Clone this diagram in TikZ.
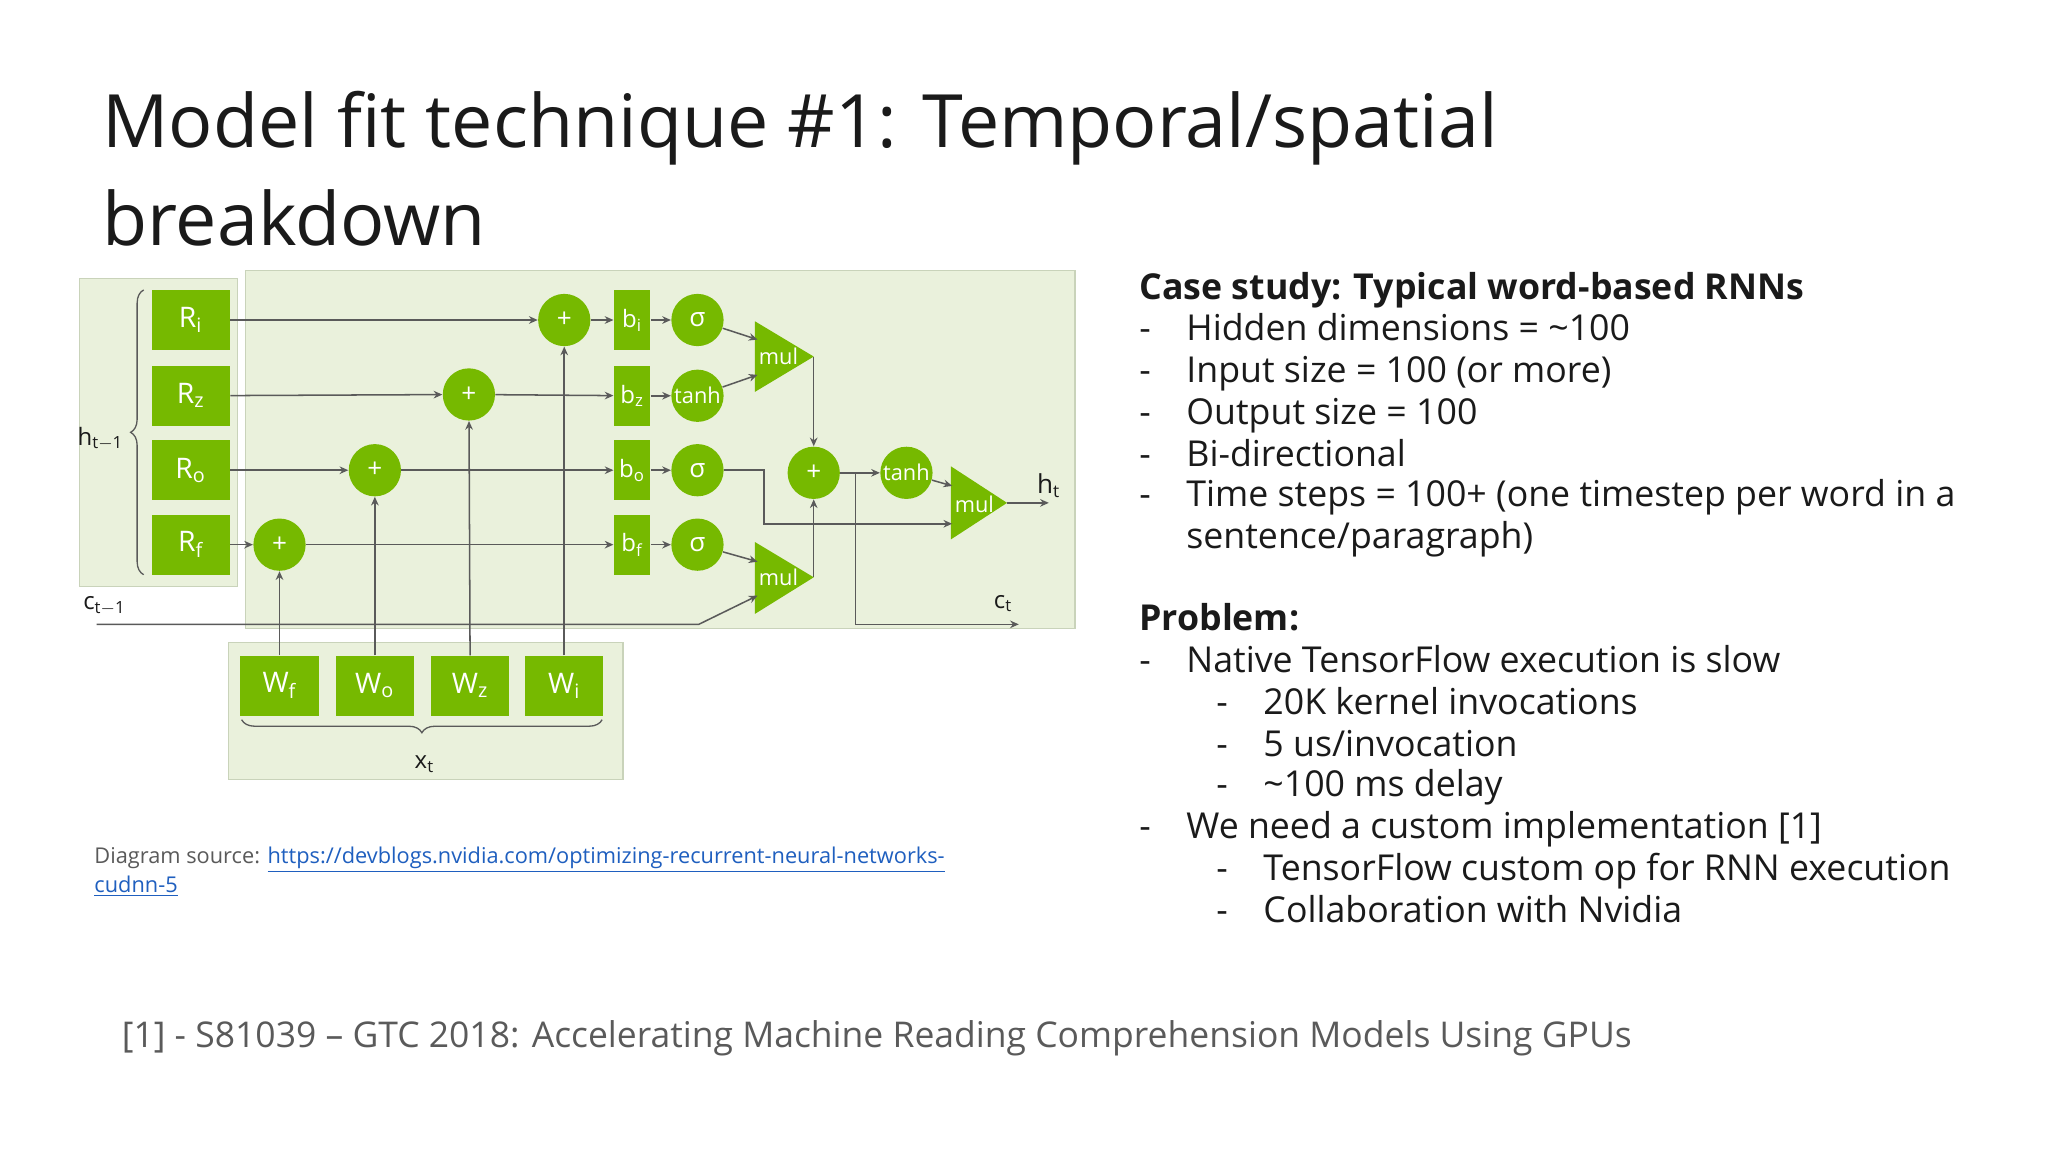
\documentclass[tikz,border=0pt]{standalone}
\usepackage{fontspec}
\setmainfont{Open Sans}
\usetikzlibrary{arrows.meta,decorations.pathreplacing}
\definecolor{nv}{HTML}{76B900}
\definecolor{pan}{HTML}{EAF1DC}
\definecolor{panb}{HTML}{C9D3BA}
\definecolor{ln}{HTML}{5A5A5A}
\definecolor{txt}{HTML}{1A1A1A}
\definecolor{lnk}{HTML}{1F5FBF}
\begin{document}
\begin{tikzpicture}[x=0.6pt,y=-0.6pt,
  panel/.style={fill=pan,draw=panb,line width=0.6pt},
  rbox/.style={fill=nv,minimum width=36pt,minimum height=27.6pt,inner sep=0,text=white,font=\fontsize{13}{13}\selectfont},
  bbox/.style={fill=nv,minimum width=16.8pt,minimum height=27.6pt,inner sep=0,text=white,font=\fontsize{11}{11}\selectfont},
  circ/.style={circle,fill=nv,minimum size=24pt,inner sep=0,text=white,font=\fontsize{10}{10}\selectfont},
  plus/.style={circ,font=\fontsize{12}{12}\selectfont},
  tri/.style={fill=nv},
  arr/.style={draw=ln,line width=0.7pt,-{Stealth[length=4pt,width=3.5pt]}},
  lbl/.style={text=txt,font=\fontsize{11}{11}\selectfont},
  body/.style={anchor=base west,text=txt,font=\fontsize{16.4}{19}\selectfont,inner sep=0}]
\useasboundingbox[fill=white] (0,0) rectangle (1568,882);
% title
\node[anchor=base west,inner sep=0,text=txt,font=\fontsize{33.8}{45}\selectfont] (t1) at (78,113) {Model fit technique \#1: Temporal/spatial};
\node[anchor=base west,inner sep=0,text=txt,font=\fontsize{33.8}{45}\selectfont] (t2) at (78,188) {breakdown};
% panels
\path[panel] (61,213) rectangle (182,449);
\path[panel] (188,207) rectangle (823,481);
\path[panel] (175,492) rectangle (477,597);
% R boxes
\node[rbox] (Ri) at (146,245) {R$_{\mathrm i}$};
\node[rbox] (Rz) at (146,303) {R$_{\mathrm z}$};
\node[rbox] (Ro) at (146,360) {R$_{\mathrm o}$};
\node[rbox] (Rf) at (146,417) {R$_{\mathrm f}$};
% W boxes
\node[rbox] (Wf) at (214,525) {W$_{\mathrm f}$};
\node[rbox] (Wo) at (287,525) {W$_{\mathrm o}$};
\node[rbox] (Wz) at (360,525) {W$_{\mathrm z}$};
\node[rbox] (Wi) at (432,525) {W$_{\mathrm i}$};
% plus
\node[plus] (pi) at (432,245) {+};
\node[plus] (pz) at (359,302) {+};
\node[plus] (po) at (287,360) {+};
\node[plus] (pf) at (214,417) {+};
% b boxes
\node[bbox] (bi) at (484,245) {b$_{\mathrm i}$};
\node[bbox] (bz) at (484,303) {b$_{\mathrm z}$};
\node[bbox] (bo) at (484,360) {b$_{\mathrm o}$};
\node[bbox] (bf) at (484,417) {b$_{\mathrm f}$};
% activations
\node[circ,font=\fontsize{12}{12}\selectfont] (si) at (534,245) {σ};
\node[circ] (tz) at (534,303) {tanh};
\node[circ,font=\fontsize{12}{12}\selectfont] (so) at (534,360) {σ};
\node[circ,font=\fontsize{12}{12}\selectfont] (sf) at (534,417) {σ};
% mul triangles
\path[tri] (578,246) -- (623,273) -- (578,300) -- cycle;
\node[inner sep=0,text=white,font=\fontsize{10}{10}\selectfont] (m1) at (596,273) {mul};
\coordinate (m1o) at (623,273);
\coordinate (m1a) at (580,260);
\coordinate (m1b) at (580,287);
\path[tri] (578,415) -- (623,442) -- (578,470) -- cycle;
\node[inner sep=0,text=white,font=\fontsize{10}{10}\selectfont] (m2) at (596,442) {mul};
\coordinate (m2o) at (623,442);
\coordinate (m2a) at (580,430);
\coordinate (m2b) at (580,456);
\path[tri] (728,357) -- (771,385) -- (728,413) -- cycle;
\node[inner sep=0,text=white,font=\fontsize{10}{10}\selectfont] (m3) at (746,386) {mul};
\coordinate (m3o) at (771,385);
\coordinate (m3a) at (729,372);
\coordinate (m3b) at (729,401);
% middle
\node[plus] (pc) at (623,362) {+};
\node[circ] (tc) at (694,362) {tanh};
% wires
\draw[arr] (Ri) -- (pi);
\draw[arr] (Rz) -- (pz);
\draw[arr] (Ro) -- (po);
\draw[arr] (Rf) -- (pf);
\draw[arr] (Wf) -- (pf);
\draw[arr] (Wo) -- (po);
\draw[arr] (Wz) -- (pz);
\draw[arr] (Wi) -- (pi);
\draw[arr] (pi) -- (bi);
\draw[arr] (pz) -- (bz);
\draw[arr] (po) -- (bo);
\draw[arr] (pf) -- (bf);
\draw[arr] (bi) -- (si);
\draw[arr] (bz) -- (tz);
\draw[arr] (bo) -- (so);
\draw[arr] (bf) -- (sf);
\draw[arr] (si) -- (m1a);
\draw[arr] (tz) -- (m1b);
\draw[arr] (sf) -- (m2a);
\draw[arr] (m1o) -- (pc);
\draw[arr] (m2o) -- (pc);
\draw[arr] (pc) -- (tc);
\draw[arr] (tc) -- (m3a);
\draw[arr] (so.east) -- (585,360) -- (585,401) -- (m3b);
\coordinate (ht) at (803,385);
\draw[arr] (m3o) -- (ht);
\node[lbl,font=\fontsize{12}{12}\selectfont] (htl) at (803,372) {h$_{\mathrm t}$};
\coordinate (cin) at (74,478);
\draw[arr] (cin) -- (535,478) -- (m2b);
\coordinate (cout) at (780,478);
\draw[arr] (pc.east) -- (655,362) -- (655,478) -- (cout);
\node[lbl] (ctl) at (768,462) {c$_{\mathrm t}$};
\node[lbl] (cil) at (80,464) {c$_{\mathrm{t-1}}$};
% braces
\draw[draw=ln,line width=0.6pt,decorate,decoration={brace,amplitude=6pt}] (110,440) -- (110,222);
\node[lbl] (hl) at (77,336) {h$_{\mathrm{t-1}}$};
\draw[draw=ln,line width=0.6pt,decorate,decoration={brace,amplitude=6pt}] (461,551) -- (185,551);
\node[lbl] (xl) at (325,585) {x$_{\mathrm t}$};
% caption
\node[anchor=base west,inner sep=0,text=ln,font=\fontsize{10}{13}\selectfont] (cap) at (72,661) {Diagram source: \textcolor{lnk}{\underline{https://devblogs.nvidia.com/optimizing-recurrent-neural-networks-}}};
\node[anchor=base west,inner sep=0,text=lnk,font=\fontsize{10}{13}\selectfont] (cap2) at (72,683) {\underline{cudnn-5}};
% right text
\node[body] (h1) at (872,229) {\textbf{Case study: Typical word-based RNNs}};
\foreach \y/\s [count=\i] in {261/{Hidden dimensions = \textasciitilde100},293/{Input size = 100 (or more)},325/{Output size = 100},357/{Bi-directional},388/{Time steps = 100+ (one timestep per word in a}}{
  \node[body] (d\i) at (872,\y) {-};
  \node[body] (l\i) at (908,\y) {\s};
}
\node[body] (l6) at (908,420) {sentence/paragraph)};
\node[body] (h2) at (872,483) {\textbf{Problem:}};
\node[body] (e1) at (872,515) {-};
\node[body] (f1) at (908,515) {Native TensorFlow execution is slow};
\foreach \y/\s [count=\i] in {547/{20K kernel invocations},579/{5 us/invocation},610/{\textasciitilde100 ms delay}}{
  \node[body] (sd\i) at (931,\y) {-};
  \node[body] (sl\i) at (967,\y) {\s};
}
\node[body] (e2) at (872,642) {-};
\node[body] (f2) at (908,642) {We need a custom implementation [1]};
\foreach \y/\s [count=\i] in {674/{TensorFlow custom op for RNN execution},706/{Collaboration with Nvidia}}{
  \node[body] (td\i) at (931,\y) {-};
  \node[body] (tl\i) at (967,\y) {\s};
}
\node[anchor=base west,inner sep=0,text=ln,font=\fontsize{16.3}{19}\selectfont] (foot) at (93,802) {[1] - S81039 – GTC 2018: Accelerating Machine Reading Comprehension Models Using GPUs};
\end{tikzpicture}
\end{document}
